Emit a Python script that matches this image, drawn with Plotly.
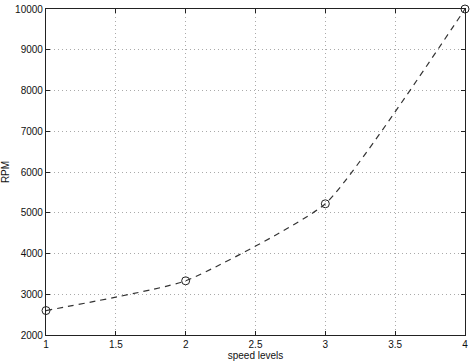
import plotly.graph_objects as go

speed_levels = [1, 2, 3, 4]
rpm = [2600, 3330, 5220, 10000]

x_ticks = [1, 1.5, 2, 2.5, 3, 3.5, 4]
x_tick_labels = ["1", "1.5", "2", "2.5", "3", "3.5", "4"]
y_ticks = [2000, 3000, 4000, 5000, 6000, 7000, 8000, 9000, 10000]
y_tick_labels = [str(v) for v in y_ticks]

fig = go.Figure()
fig.add_trace(go.Scatter(
    x=speed_levels, y=rpm, mode="lines+markers",
    line=dict(color="#333333", width=1.2, dash="6px,5px", shape="spline", smoothing=0.45),
    marker=dict(symbol="circle-open", size=8, color="#222222", line=dict(width=1)),
    showlegend=False, cliponaxis=False,
))

axis_common = dict(
    showline=True, linecolor="#222222", linewidth=1.2, mirror="ticks",
    ticks="inside", ticklen=4, tickcolor="#222222",
    showgrid=True, gridcolor="#aaaaaa", griddash="1px,3px", gridwidth=1,
    zeroline=False, tickfont=dict(size=10, color="#111111"), automargin=False,
)

fig.update_xaxes(range=[1, 4], tickvals=x_ticks, ticktext=x_tick_labels,
                 title=dict(text="speed levels", font=dict(size=10, color="#111111"), standoff=2),
                 **axis_common)
fig.update_yaxes(range=[2000, 10000], tickvals=y_ticks, ticktext=y_tick_labels,
                 title=dict(text="RPM", font=dict(size=10, color="#111111"), standoff=3),
                 **axis_common)

fig.update_layout(
    width=474, height=362,
    margin=dict(l=46, r=9, t=9, b=27),
    paper_bgcolor="white", plot_bgcolor="white",
    font=dict(family="Liberation Sans, Arial, sans-serif", size=10, color="#111111"),
)

fig.write_html("out.html", include_plotlyjs=True, config={"displayModeBar": False})
